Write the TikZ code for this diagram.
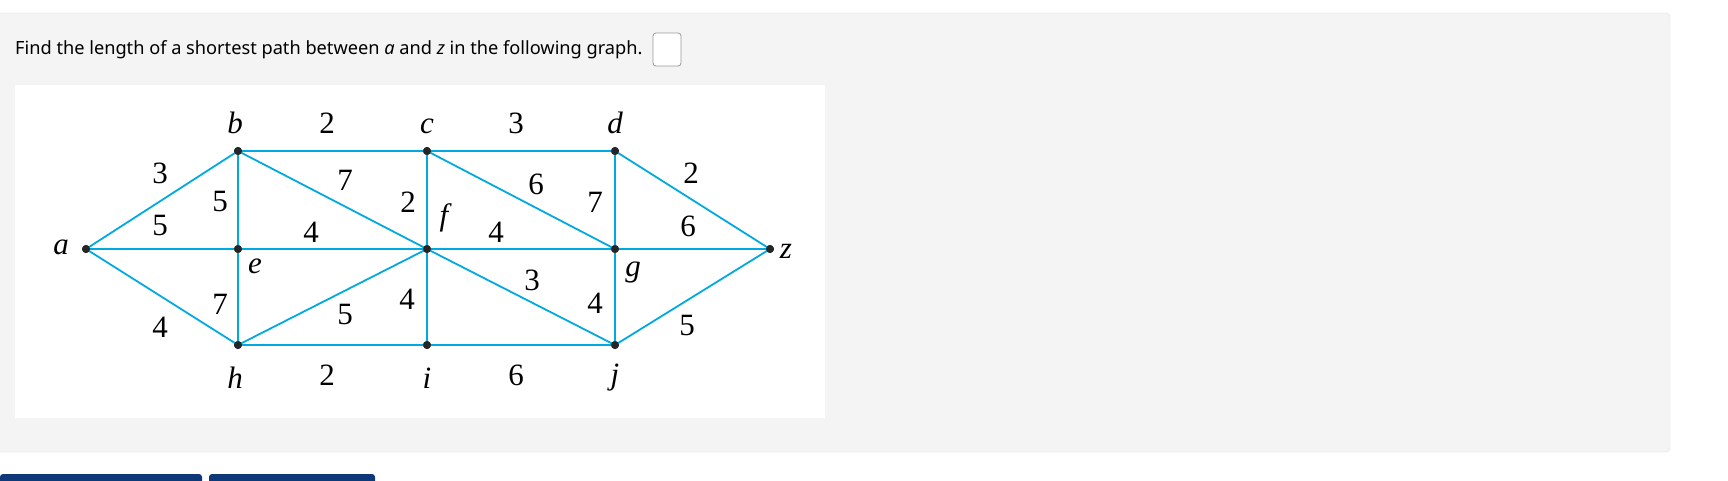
\documentclass[tikz,border=0pt]{standalone}
\usepackage{fontspec}
\setmainfont{Liberation Serif}
\newfontfamily\uifont{Noto Sans}
\newfontfamily\grfont{Liberation Serif}
\definecolor{edgec}{RGB}{0,170,225}
\definecolor{panel}{RGB}{244,244,244}
\definecolor{panelb}{RGB}{221,221,221}
\definecolor{btn}{RGB}{14,56,120}
\begin{document}
\begin{tikzpicture}[x=1pt,y=-1pt,
  vert/.style={circle,fill=black!85,inner sep=0pt,minimum size=8pt},
  edge/.style={draw=edgec,line width=1.8pt},
  lbl/.style={font=\grfont\fontsize{31}{31}\selectfont,inner sep=0pt},
  nm/.style={font=\grfont\fontsize{31}{31}\selectfont\itshape,inner sep=0pt}]
\useasboundingbox (0,0) rectangle (1728,481);
\fill[white] (0,0) rectangle (1728,481);
\draw[panelb,fill=panel,rounded corners=4pt] (-5,13) rectangle (1670,452);
\node[anchor=west,inner sep=0pt,font=\uifont\fontsize{18.2}{20}\selectfont] (q) at (15,50) {Find the length of a shortest path between \textit{a} and \textit{z} in the following graph.};
\draw[black!40,fill=white,rounded corners=3pt,line width=0.8pt] (653,33) rectangle (681,66);
\fill[white] (15,85) rectangle (825,418);
\fill[btn,rounded corners=3pt] (0,474) rectangle (202,490);
\fill[btn,rounded corners=3pt] (209,474) rectangle (375,490);
% vertices
\node[vert] (a) at (86,249) {};
\node[vert] (b) at (238,151) {};
\node[vert] (c) at (427,151) {};
\node[vert] (d) at (615,151) {};
\node[vert] (e) at (238,249) {};
\node[vert] (f) at (427,249) {};
\node[vert] (g) at (615,249) {};
\node[vert] (z) at (770,249) {};
\node[vert] (h) at (238,345) {};
\node[vert] (i) at (427,345) {};
\node[vert] (j) at (615,345) {};
\foreach \u/\v in {a/b,a/e,a/h,b/c,c/d,b/e,b/f,c/f,c/g,d/g,d/z,e/f,f/g,g/z,e/h,f/h,f/i,f/j,g/j,h/i,i/j,j/z}
  \draw[edge] (\u.center) -- (\v.center);
\foreach \n in {a,b,c,d,e,f,g,z,h,i,j}
  \fill[black!85] (\n) circle (4pt);
% names
\node[nm] (la) at (61,247) {a};
\node[nm] (lb) at (235,123) {b};
\node[nm] (lc) at (427,126) {c};
\node[nm] (ld) at (615,123) {d};
\node[nm] (le) at (255,266) {e};
\node[nm] (lf) at (444,218) {f};
\node[nm] (lg) at (633,273) {g};
\node[nm] (lz) at (786,251) {z};
\node[nm] (lh) at (235,378) {h};
\node[nm] (li) at (427,378) {i};
\node[nm] (lj) at (615,378) {j};
% weights
\node[lbl] (w1) at (327,123) {2};
\node[lbl] (w2) at (516,123) {3};
\node[lbl] (w3) at (160,173) {3};
\node[lbl] (w4) at (160,226) {5};
\node[lbl] (w5) at (220,202) {5};
\node[lbl] (w6) at (345,180) {7};
\node[lbl] (w7) at (311,232) {4};
\node[lbl] (w8) at (408,202) {2};
\node[lbl] (w9) at (496,232) {4};
\node[lbl] (w10) at (536,184) {6};
\node[lbl] (w11) at (595,202) {7};
\node[lbl] (w12) at (691,173) {2};
\node[lbl] (w13) at (688,226) {6};
\node[lbl] (w14) at (532,280) {3};
\node[lbl] (w15) at (407,299) {4};
\node[lbl] (w16) at (220,304) {7};
\node[lbl] (w17) at (345,315) {5};
\node[lbl] (w18) at (160,327) {4};
\node[lbl] (w19) at (595,303) {4};
\node[lbl] (w20) at (687,325) {5};
\node[lbl] (w21) at (327,375) {2};
\node[lbl] (w22) at (516,375) {6};
\end{tikzpicture}
\end{document}
